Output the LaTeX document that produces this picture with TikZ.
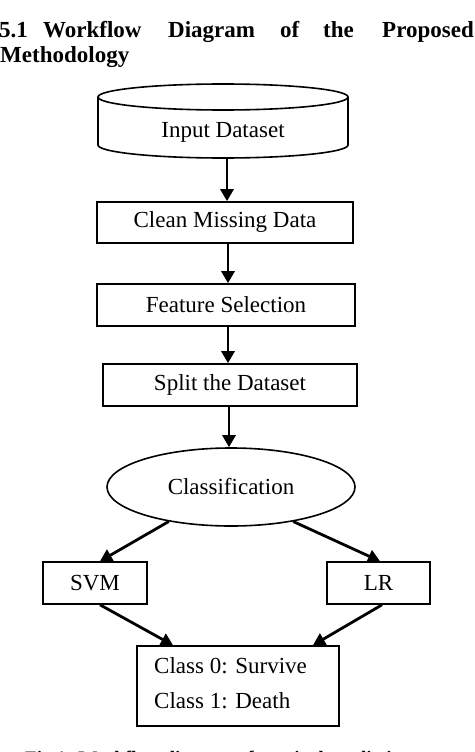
\documentclass[tikz,border=0pt]{standalone}
\usepackage{fontspec}
\setmainfont{Liberation Serif}
\usetikzlibrary{arrows.meta,shapes.geometric}
\begin{document}
\begin{tikzpicture}[x=1pt,y=-1pt,
  every node/.style={inner sep=0pt, font=\fontsize{23}{27}\selectfont},
  box/.style={draw, line width=1.6pt, minimum height=42pt},
  arr/.style={line width=2.8pt, -{Triangle[length=12pt,width=13pt]}},
  head/.style={font=\fontsize{23}{27}\selectfont\bfseries, anchor=base west}]
\clip (0,0) rectangle (474,752);
\useasboundingbox (0,0) rectangle (474,752);
% heading
\node[head] (h0) at (-1,38) {5.1};
\node[head] (h1) at (43,38) {Workflow};
\node[head] (h2) at (168,38) {Diagram};
\node[head] (h3) at (280,38) {of};
\node[head] (h4) at (323,38) {the};
\node[head, anchor=base east] (h5) at (474,38) {Proposed};
\node[head] (h6) at (0,63) {Methodology};
% cylinder
\node[minimum width=250pt, minimum height=75pt] (inp) at (223,120.5) {};
\draw[line width=1.6pt] (223,97) ellipse [x radius=125pt, y radius=13pt];
\draw[line width=1.6pt] (98,97) -- (98,145) arc[start angle=180, end angle=360, x radius=125pt, y radius=13pt] -- (348,97);
\node[anchor=base] (inptxt) at (223,137) {Input Dataset};
% boxes
\node[box, minimum width=256pt, minimum height=41pt] (clean) at (225,222.5) {Clean Missing Data};
\node[box, minimum width=258pt] (feat) at (226,305) {Feature Selection};
\node[box, minimum width=254pt] (split) at (230,385) {Split the Dataset};
\node[draw, ellipse, line width=1.6pt, minimum width=248pt, minimum height=78pt] (cls) at (231,487) {Classification};
\node[box, minimum width=104pt] (svm) at (95,583) {SVM};
\node[box, minimum width=103pt] (lr) at (378.5,583) {LR};
\node[box, minimum width=202pt, minimum height=80pt] (out) at (238,686) {};
\node[anchor=base west] (c0) at (154,673) {Class 0: Survive};
\node[anchor=base west] (c1) at (154,708) {Class 1: Death};
\node[anchor=base west, font=\fontsize{19}{23}\selectfont\bfseries] (cap) at (25,764) {Fig 1: Workflow diagram of survival prediction};
% connectors
\draw[arr] ([xshift=4pt]inp.south) -- ([xshift=4pt]inp.south |- clean.north);
\draw[arr] ([xshift=3pt]clean.south) -- ([xshift=3pt]clean.south |- feat.north);
\draw[arr] ([xshift=2pt]feat.south) -- ([xshift=2pt]feat.south |- split.north);
\draw[arr] ([xshift=-1pt]split.south) -- ([xshift=-1pt]split.south |- cls.north);
\draw[arr] (cls.209) -- ([xshift=5pt]svm.north);
\draw[arr] (cls.331) -- ([xshift=1.5pt]lr.north);
\draw[arr] ([xshift=5pt]svm.south) -- ([xshift=-65pt]out.north);
\draw[arr] ([xshift=3.5pt]lr.south) -- ([xshift=75pt]out.north);
\end{tikzpicture}
\end{document}
